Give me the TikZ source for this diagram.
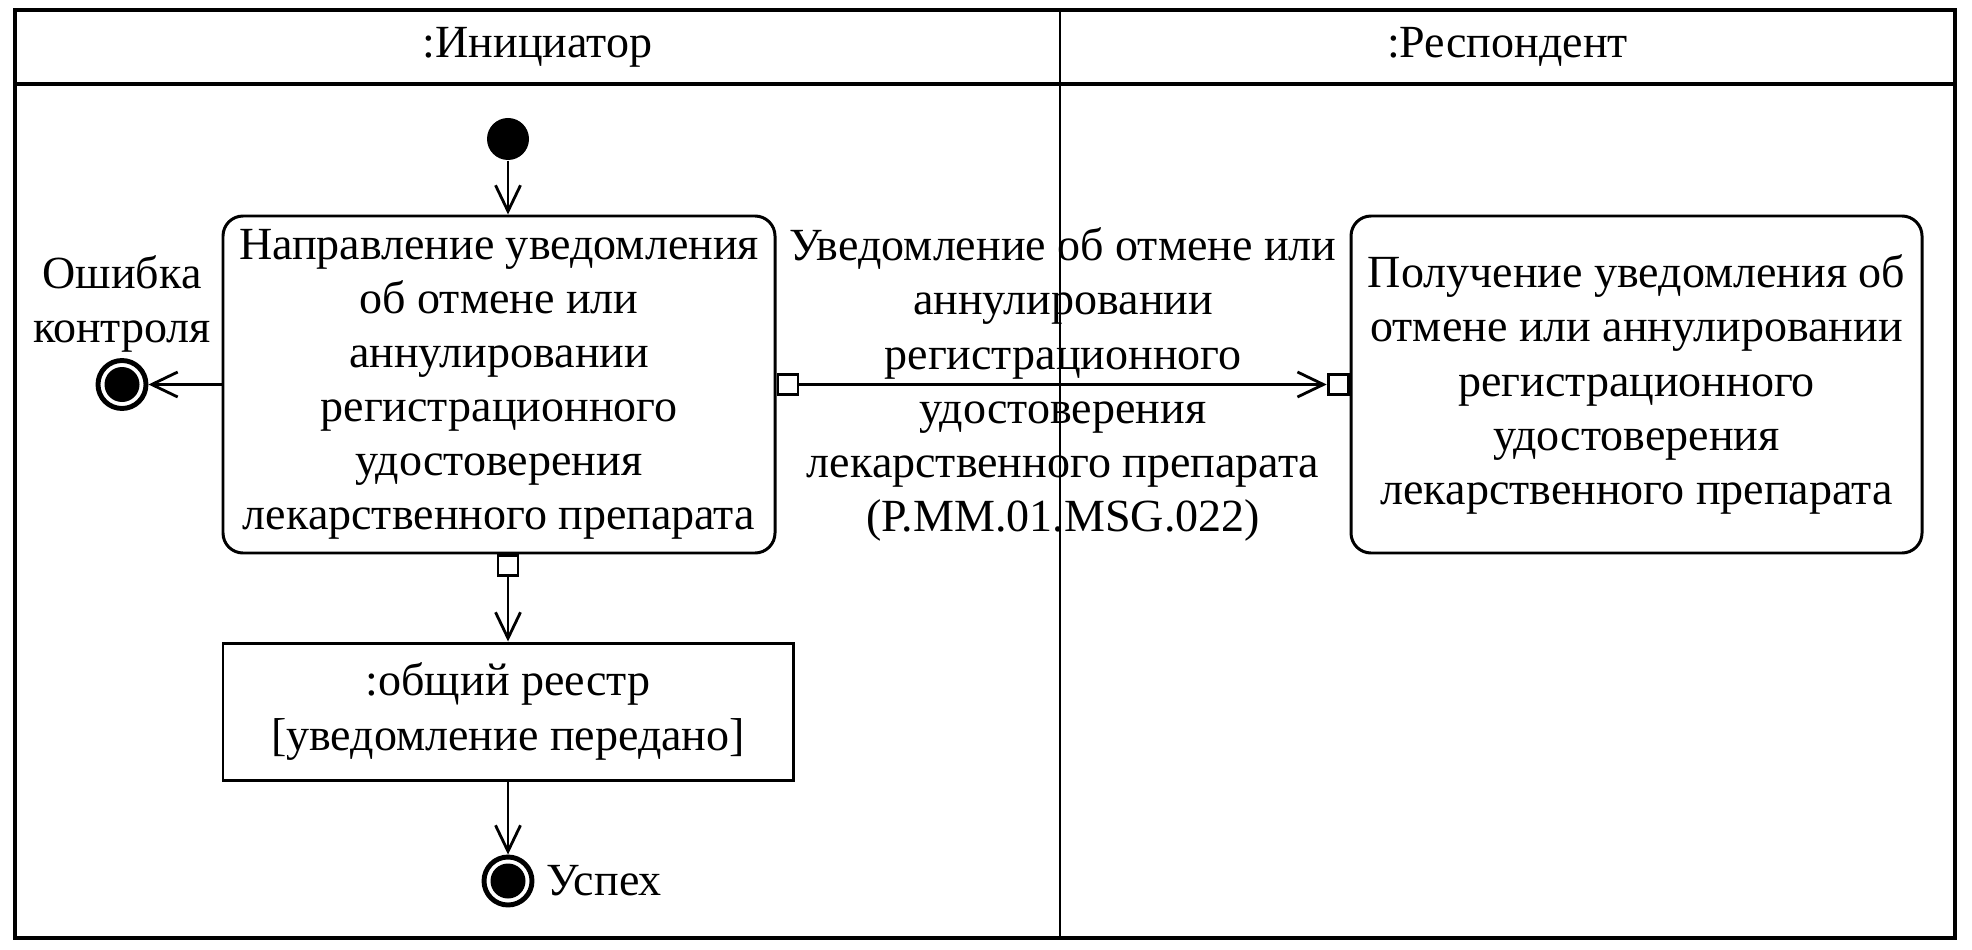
\documentclass[tikz,border=0pt]{standalone}
\usepackage{fontspec}
\setmainfont{Liberation Serif}
\usetikzlibrary{arrows.meta,positioning}

\begin{document}
\begin{tikzpicture}[
	every node/.style={font=\fontsize{13.1}{15.4}\selectfont},
	action/.style={draw, line width=0.85pt, rounded corners=0.2cm, align=center, inner sep=0pt},
	objnode/.style={draw, line width=0.85pt, align=center, inner sep=0pt},
	pinbox/.style={draw, line width=0.8pt, fill=white, minimum size=0.2cm, inner sep=0pt},
	flow/.style={line width=0.8pt, -{Straight Barb[length=0.26cm,width=0.25cm]}},
	initnode/.style={circle, fill=black, minimum size=0.42cm, inner sep=0pt},
	finalnode/.style={circle, draw, line width=1.4pt, minimum size=0.48cm, inner sep=0pt,
		path picture={\fill (path picture bounding box.center) circle (0.175cm);}}
	]
	\useasboundingbox (0,0) rectangle (19.72,9.49);
	% Swimlanes
	\draw[line width=1.1pt] (0.15,0.11) rectangle (19.55,9.39);
	\draw[line width=1.1pt] (0.15,8.65) -- (19.55,8.65);
	\draw[line width=0.8pt] (10.60,0.11) -- (10.60,9.39);
	\node (laneInit) at (5.375,9.02) {:Инициатор};
	\node (laneResp) at (15.075,9.02) {:Респондент};
	
	% Actions
	\node[initnode] (start) at (5.08,8.10) {};
	\node[action, minimum width=5.52cm, minimum height=3.37cm] (send) at (4.99,5.645)
		{Направление уведомления\\об отмене или\\аннулировании\\регистрационного\\удостоверения\\лекарственного препарата};
	\node[pinbox, anchor=west] (sendOut) at (send.east) {};
	\node[pinbox, anchor=north] (sendReg) at (start |- send.south) {};
	\node[action, minimum width=5.71cm, minimum height=3.37cm] (recv) at (16.365,5.645)
		{Получение уведомления об\\отмене или аннулировании\\регистрационного\\удостоверения\\лекарственного препарата};
	\node[pinbox, anchor=east] (recvIn) at (recv.west) {};
	\node[objnode, minimum width=5.70cm, minimum height=1.37cm] (reg) at (5.08,2.375)
		{:общий реестр\\{[}уведомление передано{]}};
	
	% Final nodes
	\node[finalnode] (fail) at (1.22,5.645) {};
	\node[align=center] (failLabel) at (1.22,6.455) {Ошибка\\контроля};
	\node[finalnode] (done) at (5.08,0.68) {};
	\node[right=0pt of done] (doneLabel) {Успех};
	
	% Flows
	\draw[flow] (start) -- (start |- send.north);
	\draw[flow] (send) -- (fail);
	\draw[flow] (sendOut) -- (recvIn) node[midway, align=center] (msgLabel)
		{Уведомление об отмене или\\аннулировании\\регистрационного\\удостоверения\\лекарственного препарата\\(P.MM.01.MSG.022)};
	\draw[flow] (sendReg) -- (sendReg |- reg.north);
	\draw[flow] (reg) -- (done);
\end{tikzpicture}
\end{document}
